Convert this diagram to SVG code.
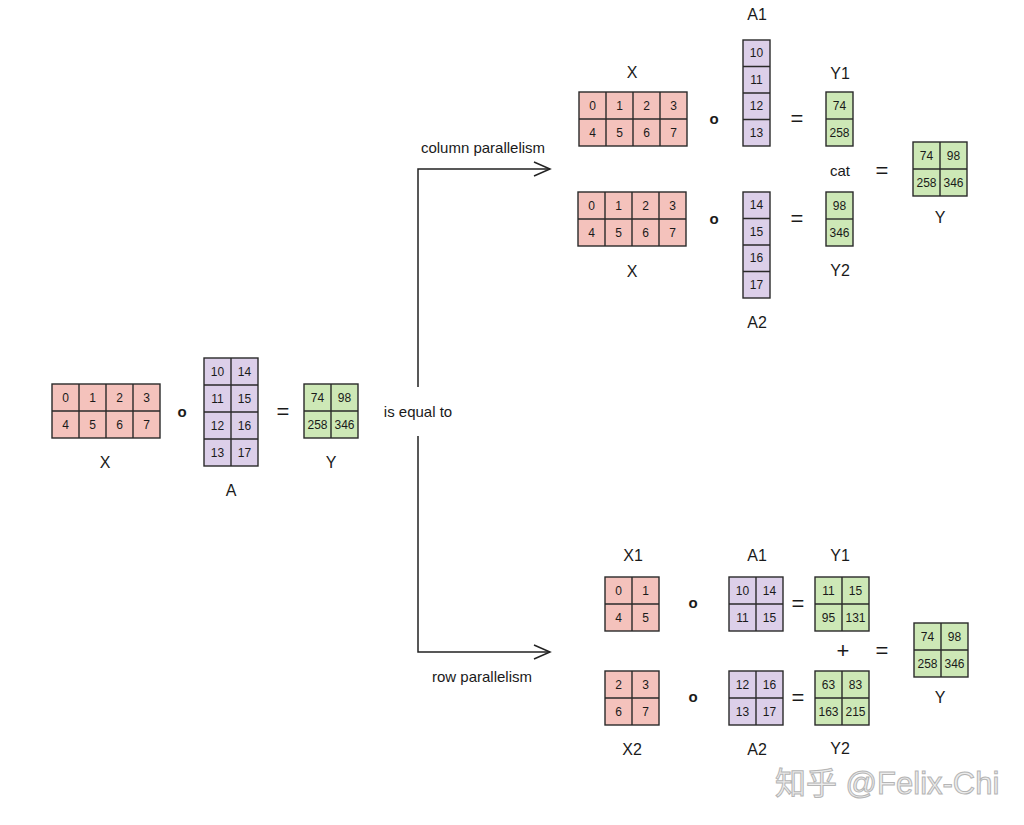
<svg xmlns="http://www.w3.org/2000/svg" width="1024" height="825" viewBox="0 0 1024 825">
<style>
text{font-family:"Liberation Sans","Noto Sans",sans-serif;fill:#1a1a1a}
.r{fill:#f4c2bc}
.p{fill:#dccfe9}
.g{fill:#cde8b6}
.cell{stroke:#2a2a2a;stroke-width:1.4}
.n{font-size:12px;text-anchor:middle;dominant-baseline:central}
.lbl{font-size:16px;text-anchor:middle;dominant-baseline:central}
.op{font-size:22px;text-anchor:middle;dominant-baseline:central}
.dot{font-size:15px;font-weight:bold;text-anchor:middle;dominant-baseline:central}
.cap{font-size:15px;text-anchor:middle;dominant-baseline:central}
.conn{fill:none;stroke:#222;stroke-width:1.5}
.wm{font-family:"Liberation Sans","Noto Sans CJK SC",sans-serif;font-size:31px;fill:#ececec;stroke:#b5b5b5;stroke-width:1}
</style>
<defs>
<marker id="ah" markerWidth="20" markerHeight="16" refX="17" refY="8" orient="auto" markerUnits="userSpaceOnUse">
<path d="M1,1 L17,8 L1,15" fill="none" stroke="#222" stroke-width="1.5"/>
</marker>
</defs>
<rect width="1024" height="825" fill="#ffffff"/>

<g id="connectors">
<path class="conn" d="M418,387 L418,169 L550,169" marker-end="url(#ah)"/>
<path class="conn" d="M418,436 L418,652 L550,652" marker-end="url(#ah)"/>
</g>

<!-- left side -->
<g id="X">
<rect class="r cell" x="52" y="384" width="108" height="54"/>
<path class="cell" d="M79,384V438M106,384V438M133,384V438M52,411H160"/>
<text class="n" x="65.5" y="397.5">0</text><text class="n" x="92.5" y="397.5">1</text><text class="n" x="119.5" y="397.5">2</text><text class="n" x="146.5" y="397.5">3</text>
<text class="n" x="65.5" y="424.5">4</text><text class="n" x="92.5" y="424.5">5</text><text class="n" x="119.5" y="424.5">6</text><text class="n" x="146.5" y="424.5">7</text>
<text class="lbl" x="105" y="462">X</text>
</g>
<text class="dot" x="182" y="411">o</text>
<g id="A">
<rect class="p cell" x="204" y="358" width="54" height="108"/>
<path class="cell" d="M231,358V466M204,385H258M204,412H258M204,439H258"/>
<text class="n" x="217.5" y="371.5">10</text><text class="n" x="244.5" y="371.5">14</text>
<text class="n" x="217.5" y="398.5">11</text><text class="n" x="244.5" y="398.5">15</text>
<text class="n" x="217.5" y="425.5">12</text><text class="n" x="244.5" y="425.5">16</text>
<text class="n" x="217.5" y="452.5">13</text><text class="n" x="244.5" y="452.5">17</text>
<text class="lbl" x="231" y="490">A</text>
</g>
<text class="op" x="283" y="411">=</text>
<g id="Y">
<rect class="g cell" x="304" y="384" width="54" height="54"/>
<path class="cell" d="M331,384V438M304,411H358"/>
<text class="n" x="317.5" y="397.5">74</text><text class="n" x="344.5" y="397.5">98</text>
<text class="n" x="317.5" y="424.5">258</text><text class="n" x="344.5" y="424.5">346</text>
<text class="lbl" x="331" y="462">Y</text>
</g>
<text class="cap" x="418" y="411">is equal to</text>
<text class="cap" x="483" y="147">column parallelism</text>
<text class="cap" x="482" y="676">row parallelism</text>

<!-- column parallelism -->
<g id="colX1">
<rect class="r cell" x="579" y="92" width="108" height="54"/>
<path class="cell" d="M606,92V146M633,92V146M660,92V146M579,119H687"/>
<text class="n" x="592.5" y="105.5">0</text><text class="n" x="619.5" y="105.5">1</text><text class="n" x="646.5" y="105.5">2</text><text class="n" x="673.5" y="105.5">3</text>
<text class="n" x="592.5" y="132.5">4</text><text class="n" x="619.5" y="132.5">5</text><text class="n" x="646.5" y="132.5">6</text><text class="n" x="673.5" y="132.5">7</text>
<text class="lbl" x="632" y="72">X</text>
</g>
<text class="dot" x="714" y="118">o</text>
<g id="colA1">
<rect class="p cell" x="743" y="40" width="27" height="106"/>
<path class="cell" d="M743,66.5H770M743,93H770M743,119.5H770"/>
<text class="n" x="756.5" y="53">10</text><text class="n" x="756.5" y="79.5">11</text><text class="n" x="756.5" y="106">12</text><text class="n" x="756.5" y="132.5">13</text>
<text class="lbl" x="757" y="14">A1</text>
</g>
<text class="op" x="797" y="118">=</text>
<g id="colY1">
<rect class="g cell" x="826" y="92" width="27" height="54"/>
<path class="cell" d="M826,119H853"/>
<text class="n" x="839.5" y="105.5">74</text><text class="n" x="839.5" y="132.5">258</text>
<text class="lbl" x="840" y="73">Y1</text>
</g>
<text class="cap" x="840" y="170">cat</text>
<text class="op" x="882" y="170">=</text>
<g id="colY">
<rect class="g cell" x="913" y="142" width="54" height="54"/>
<path class="cell" d="M940,142V196M913,169H967"/>
<text class="n" x="926.5" y="155.5">74</text><text class="n" x="953.5" y="155.5">98</text>
<text class="n" x="926.5" y="182.5">258</text><text class="n" x="953.5" y="182.5">346</text>
<text class="lbl" x="940" y="217">Y</text>
</g>
<g id="colX2">
<rect class="r cell" x="578" y="192" width="108" height="54"/>
<path class="cell" d="M605,192V246M632,192V246M659,192V246M578,219H686"/>
<text class="n" x="591.5" y="205.5">0</text><text class="n" x="618.5" y="205.5">1</text><text class="n" x="645.5" y="205.5">2</text><text class="n" x="672.5" y="205.5">3</text>
<text class="n" x="591.5" y="232.5">4</text><text class="n" x="618.5" y="232.5">5</text><text class="n" x="645.5" y="232.5">6</text><text class="n" x="672.5" y="232.5">7</text>
<text class="lbl" x="632" y="271">X</text>
</g>
<text class="dot" x="714" y="218">o</text>
<g id="colA2">
<rect class="p cell" x="743" y="192" width="27" height="106"/>
<path class="cell" d="M743,218.5H770M743,245H770M743,271.5H770"/>
<text class="n" x="756.5" y="205">14</text><text class="n" x="756.5" y="231.5">15</text><text class="n" x="756.5" y="258">16</text><text class="n" x="756.5" y="284.5">17</text>
<text class="lbl" x="757" y="322">A2</text>
</g>
<text class="op" x="797" y="218">=</text>
<g id="colY2">
<rect class="g cell" x="826" y="192" width="27" height="54"/>
<path class="cell" d="M826,219H853"/>
<text class="n" x="839.5" y="205.5">98</text><text class="n" x="839.5" y="232.5">346</text>
<text class="lbl" x="840" y="270">Y2</text>
</g>

<!-- row parallelism -->
<g id="rowX1">
<rect class="r cell" x="605" y="577" width="54" height="54"/>
<path class="cell" d="M632,577V631M605,604H659"/>
<text class="n" x="618.5" y="590.5">0</text><text class="n" x="645.5" y="590.5">1</text>
<text class="n" x="618.5" y="617.5">4</text><text class="n" x="645.5" y="617.5">5</text>
<text class="lbl" x="633" y="555">X1</text>
</g>
<text class="dot" x="693" y="602">o</text>
<g id="rowA1">
<rect class="p cell" x="729" y="577" width="54" height="54"/>
<path class="cell" d="M756,577V631M729,604H783"/>
<text class="n" x="742.5" y="590.5">10</text><text class="n" x="769.5" y="590.5">14</text>
<text class="n" x="742.5" y="617.5">11</text><text class="n" x="769.5" y="617.5">15</text>
<text class="lbl" x="757" y="555">A1</text>
</g>
<text class="op" x="798" y="603">=</text>
<g id="rowY1">
<rect class="g cell" x="815" y="577" width="54" height="54"/>
<path class="cell" d="M842,577V631M815,604H869"/>
<text class="n" x="828.5" y="590.5">11</text><text class="n" x="855.5" y="590.5">15</text>
<text class="n" x="828.5" y="617.5">95</text><text class="n" x="855.5" y="617.5">131</text>
<text class="lbl" x="840" y="555">Y1</text>
</g>
<text class="op" x="843" y="650">+</text>
<text class="op" x="882" y="650">=</text>
<g id="rowX2">
<rect class="r cell" x="605" y="671" width="54" height="54"/>
<path class="cell" d="M632,671V725M605,698H659"/>
<text class="n" x="618.5" y="684.5">2</text><text class="n" x="645.5" y="684.5">3</text>
<text class="n" x="618.5" y="711.5">6</text><text class="n" x="645.5" y="711.5">7</text>
<text class="lbl" x="632" y="749">X2</text>
</g>
<text class="dot" x="693" y="696">o</text>
<g id="rowA2">
<rect class="p cell" x="729" y="671" width="54" height="54"/>
<path class="cell" d="M756,671V725M729,698H783"/>
<text class="n" x="742.5" y="684.5">12</text><text class="n" x="769.5" y="684.5">16</text>
<text class="n" x="742.5" y="711.5">13</text><text class="n" x="769.5" y="711.5">17</text>
<text class="lbl" x="757" y="749">A2</text>
</g>
<text class="op" x="798" y="697">=</text>
<g id="rowY2">
<rect class="g cell" x="815" y="671" width="54" height="54"/>
<path class="cell" d="M842,671V725M815,698H869"/>
<text class="n" x="828.5" y="684.5">63</text><text class="n" x="855.5" y="684.5">83</text>
<text class="n" x="828.5" y="711.5">163</text><text class="n" x="855.5" y="711.5">215</text>
<text class="lbl" x="840" y="748">Y2</text>
</g>
<g id="rowY">
<rect class="g cell" x="914" y="623" width="54" height="54"/>
<path class="cell" d="M941,623V677M914,650H968"/>
<text class="n" x="927.5" y="636.5">74</text><text class="n" x="954.5" y="636.5">98</text>
<text class="n" x="927.5" y="663.5">258</text><text class="n" x="954.5" y="663.5">346</text>
<text class="lbl" x="940" y="697">Y</text>
</g>

<text class="wm" x="775" y="794">知乎 @Felix-Chi</text>
</svg>
